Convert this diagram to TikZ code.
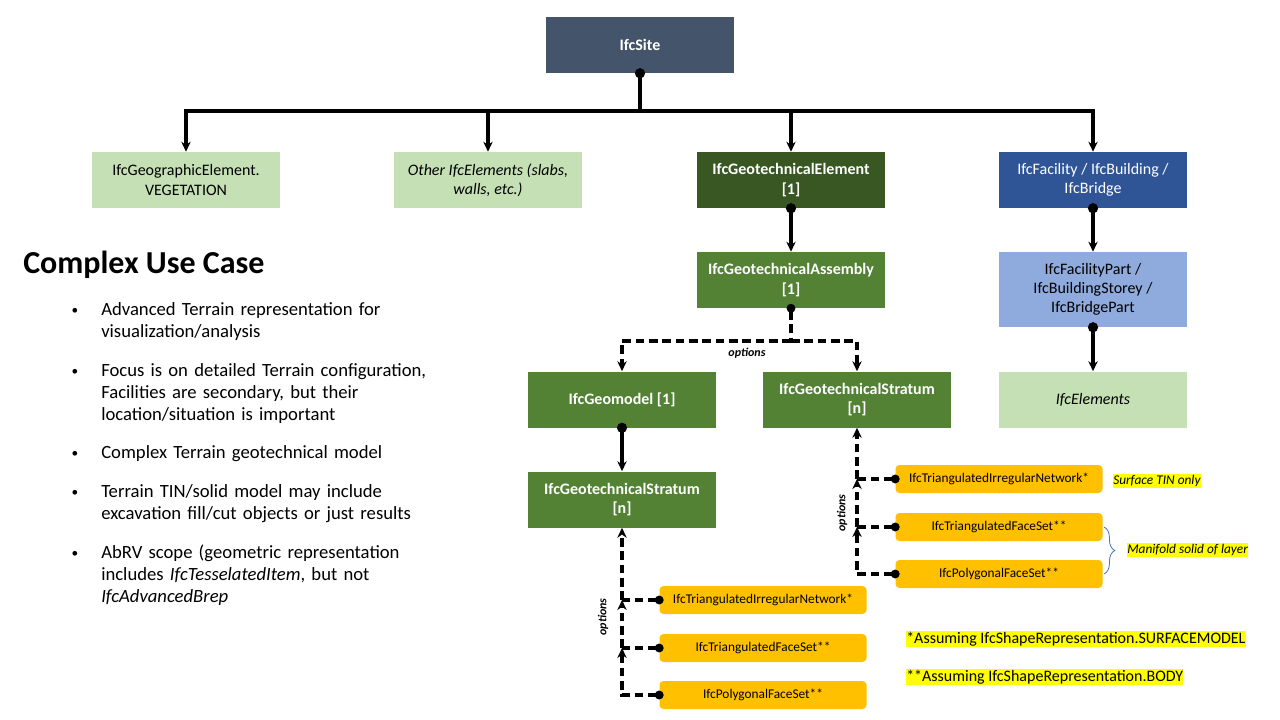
\documentclass[tikz,border=0pt]{standalone}
\usepackage{fontspec}
\setmainfont{Carlito}
\usetikzlibrary{arrows.meta,decorations.pathreplacing}
\definecolor{siteC}{HTML}{44546A}
\definecolor{paleG}{HTML}{C5E0B4}
\definecolor{darkG}{HTML}{385723}
\definecolor{midG}{HTML}{548235}
\definecolor{blueC}{HTML}{2F5597}
\definecolor{paleB}{HTML}{8FAADC}
\definecolor{repC}{HTML}{FFC000}
\definecolor{hiY}{HTML}{FFFF00}
\definecolor{braceC}{HTML}{4472C4}
\begin{document}
\begin{tikzpicture}[x=0.75pt,y=-0.75pt,
  box/.style={shape=rectangle,minimum width=141pt,minimum height=42pt,inner sep=2pt,align=center,font=\fontsize{12}{14.4}\selectfont},
  boxS/.style={box,fill=siteC,text=white,font=\fontsize{12}{14.4}\selectfont\bfseries},
  boxL/.style={box,fill=paleG},
  boxLi/.style={boxL,font=\fontsize{12}{14.4}\selectfont\itshape},
  boxD/.style={box,fill=darkG,text=white,font=\fontsize{12}{14.4}\selectfont\bfseries},
  boxG/.style={box,fill=midG,text=white,font=\fontsize{12}{14.4}\selectfont\bfseries},
  boxB/.style={box,fill=blueC,text=white},
  boxP/.style={box,fill=paleB},
  rep/.style={shape=rectangle,rounded corners=3pt,fill=repC,minimum width=155.25pt,minimum height=21pt,inner sep=1pt,font=\fontsize{10}{12}\selectfont},
  link/.style={line width=2.4pt},
  dotline/.style={link,{Circle[length=7.5pt]}-,shorten <=-3.75pt},
  dotarr/.style={link,{Circle[length=7.5pt]}-{Stealth[length=7.5pt,width=7pt]},shorten <=-3.75pt},
  optdot/.style={link,{Circle[length=6.5pt]}-,shorten <=-3.25pt},
  optdotarr/.style={link,{Circle[length=6.5pt]}-{Stealth[length=7.5pt,width=7pt]},shorten <=-3.25pt},
  arr/.style={link,-{Stealth[length=7.5pt,width=7pt]}},
  alt/.style={dash pattern=on 6.5pt off 3.5pt},
  optlabel/.style={inner sep=0pt,font=\fontsize{9}{10}\selectfont\bfseries\itshape},
  hilite/.style={fill=hiY,inner xsep=0pt,inner ysep=1pt},
  bulletdot/.style={anchor=base,inner sep=0pt,font=\fontsize{10}{12}\selectfont},
  bullettext/.style={anchor=base west,inner sep=0pt,text width=300pt,align=left,font=\fontsize{14}{16.5}\selectfont}]

\fill[white] (0,0) rectangle (1280,720);
\useasboundingbox (0,0) rectangle (1280,720);

% left text
\node[anchor=base west,inner sep=0pt,font=\fontsize{24}{28}\selectfont\bfseries] (ttl) at (23,273) {Complex Use Case};

\node[bulletdot] (b1) at (75,314) {•};
\node[bullettext] (t1) at (101,315) {Advanced Terrain representation for\\visualization/analysis};
\node[bulletdot] (b2) at (75,375) {•};
\node[bullettext] (t2) at (101,376) {Focus is on detailed Terrain configuration,\\Facilities are secondary, but their\\location/situation is important};
\node[bulletdot] (b3) at (75,457) {•};
\node[bullettext] (t3) at (101,458) {Complex Terrain geotechnical model};
\node[bulletdot] (b4) at (75,496) {•};
\node[bullettext] (t4) at (101,497) {Terrain TIN/solid model may include\\excavation fill/cut objects or just results};
\node[bulletdot] (b5) at (75,557) {•};
\node[bullettext] (t5) at (101,558) {AbRV scope (geometric representation\\includes \textit{IfcTesselatedItem}, but not\\\textit{IfcAdvancedBrep}};

% spatial tree
\node[boxS] (site) at (640,45) {IfcSite};
\coordinate (bus) at (640,111);

\node[boxL] (veg) at (186,180) {IfcGeographicElement.\\VEGETATION};
\node[boxLi] (other) at (488,180) {Other IfcElements (slabs,\\walls, etc.)};
\node[boxD] (gtel) at (791,180) {IfcGeotechnicalElement\\{[1]}};
\node[boxB] (fac) at (1093,180) {IfcFacility / IfcBuilding /\\IfcBridge};

\draw[dotline] (site.south) -- (bus);
\draw[arr] (bus) -| (veg.north);
\draw[arr] (bus) -| (other.north);
\draw[arr] (bus) -| (gtel.north);
\draw[arr] (bus) -| (fac.north);

\node[boxG] (assy) at (791,280) {IfcGeotechnicalAssembly\\{[1]}};
\node[boxP,minimum height=56.25pt] (facpart) at (1093,289.5) {IfcFacilityPart /\\IfcBuildingStorey /\\IfcBridgePart};
\draw[dotarr] (gtel.south) -- (assy.north);
\draw[dotarr] (fac.south) -- (facpart.north);

\node[boxG] (geomodel) at (622,399.5) {IfcGeomodel [1]};
\node[boxG] (stratR) at (857,399.5) {IfcGeotechnicalStratum\\{[n]}};
\node[boxLi] (elems) at (1093,399.5) {IfcElements};
\draw[dotarr] (facpart.south) -- (elems.north);

\coordinate (optT) at (791,341);
\draw[optdot,alt] (assy.south) -- (optT);
\draw[arr,alt] (optT) -| (geomodel.north);
\draw[arr,alt] (optT) -| (stratR.north);
\node[optlabel] (optTop) at (747,353) {options};

\node[boxG] (stratL) at (622,499.5) {IfcGeotechnicalStratum\\{[n]}};
\draw[dotarr] (geomodel.south) -- (stratL.north);

% representations, left stratum
\node[rep] (tinL) at (763,600) {IfcTriangulatedIrregularNetwork*};
\node[rep] (tfsL) at (763,648) {IfcTriangulatedFaceSet**};
\node[rep] (pfsL) at (763,695) {IfcPolygonalFaceSet**};
\coordinate (jL1) at (stratL.south |- tinL.west);
\coordinate (jL2) at (stratL.south |- tfsL.west);
\draw[optdotarr,alt] (pfsL.west) -| (jL2);
\draw[optdot,alt] (tfsL.west) -- (jL2);
\draw[arr,alt] (jL2) -- (jL1);
\draw[optdot,alt] (tinL.west) -- (jL1);
\draw[arr,alt] (jL1) -- (stratL.south);
\node[optlabel,rotate=90] (optL) at (603,617) {options};

% representations, right stratum
\node[rep] (tinR) at (999,479) {IfcTriangulatedIrregularNetwork*};
\node[rep] (tfsR) at (999,527) {IfcTriangulatedFaceSet**};
\node[rep] (pfsR) at (999,574) {IfcPolygonalFaceSet**};
\coordinate (jR1) at (stratR.south |- tinR.west);
\coordinate (jR2) at (stratR.south |- tfsR.west);
\draw[optdotarr,alt] (pfsR.west) -| (jR2);
\draw[optdot,alt] (tfsR.west) -- (jR2);
\draw[arr,alt] (jR2) -- (jR1);
\draw[optdot,alt] (tinR.west) -- (jR1);
\draw[arr,alt] (jR1) -- (stratR.south);
\node[optlabel,rotate=90] (optR) at (842,513) {options};

% notes
\node[hilite,anchor=west,font=\fontsize{10}{12}\selectfont\itshape] (tinNote) at (1113,481) {Surface TIN only};
\draw[braceC,line width=0.6pt,decorate,decoration={brace,amplitude=8pt}] ([xshift=1pt]tfsR.east) -- ([xshift=1pt]pfsR.east);
\node[hilite,anchor=west,font=\fontsize{10}{12}\selectfont\itshape] (solidNote) at (1127,550) {Manifold solid of layer};
\node[hilite,anchor=west,font=\fontsize{12}{14}\selectfont] (fn1) at (906,639) {*Assuming IfcShapeRepresentation.SURFACEMODEL};
\node[hilite,anchor=west,font=\fontsize{12}{14}\selectfont] (fn2) at (906,677) {**Assuming IfcShapeRepresentation.BODY};
\end{tikzpicture}
\end{document}
